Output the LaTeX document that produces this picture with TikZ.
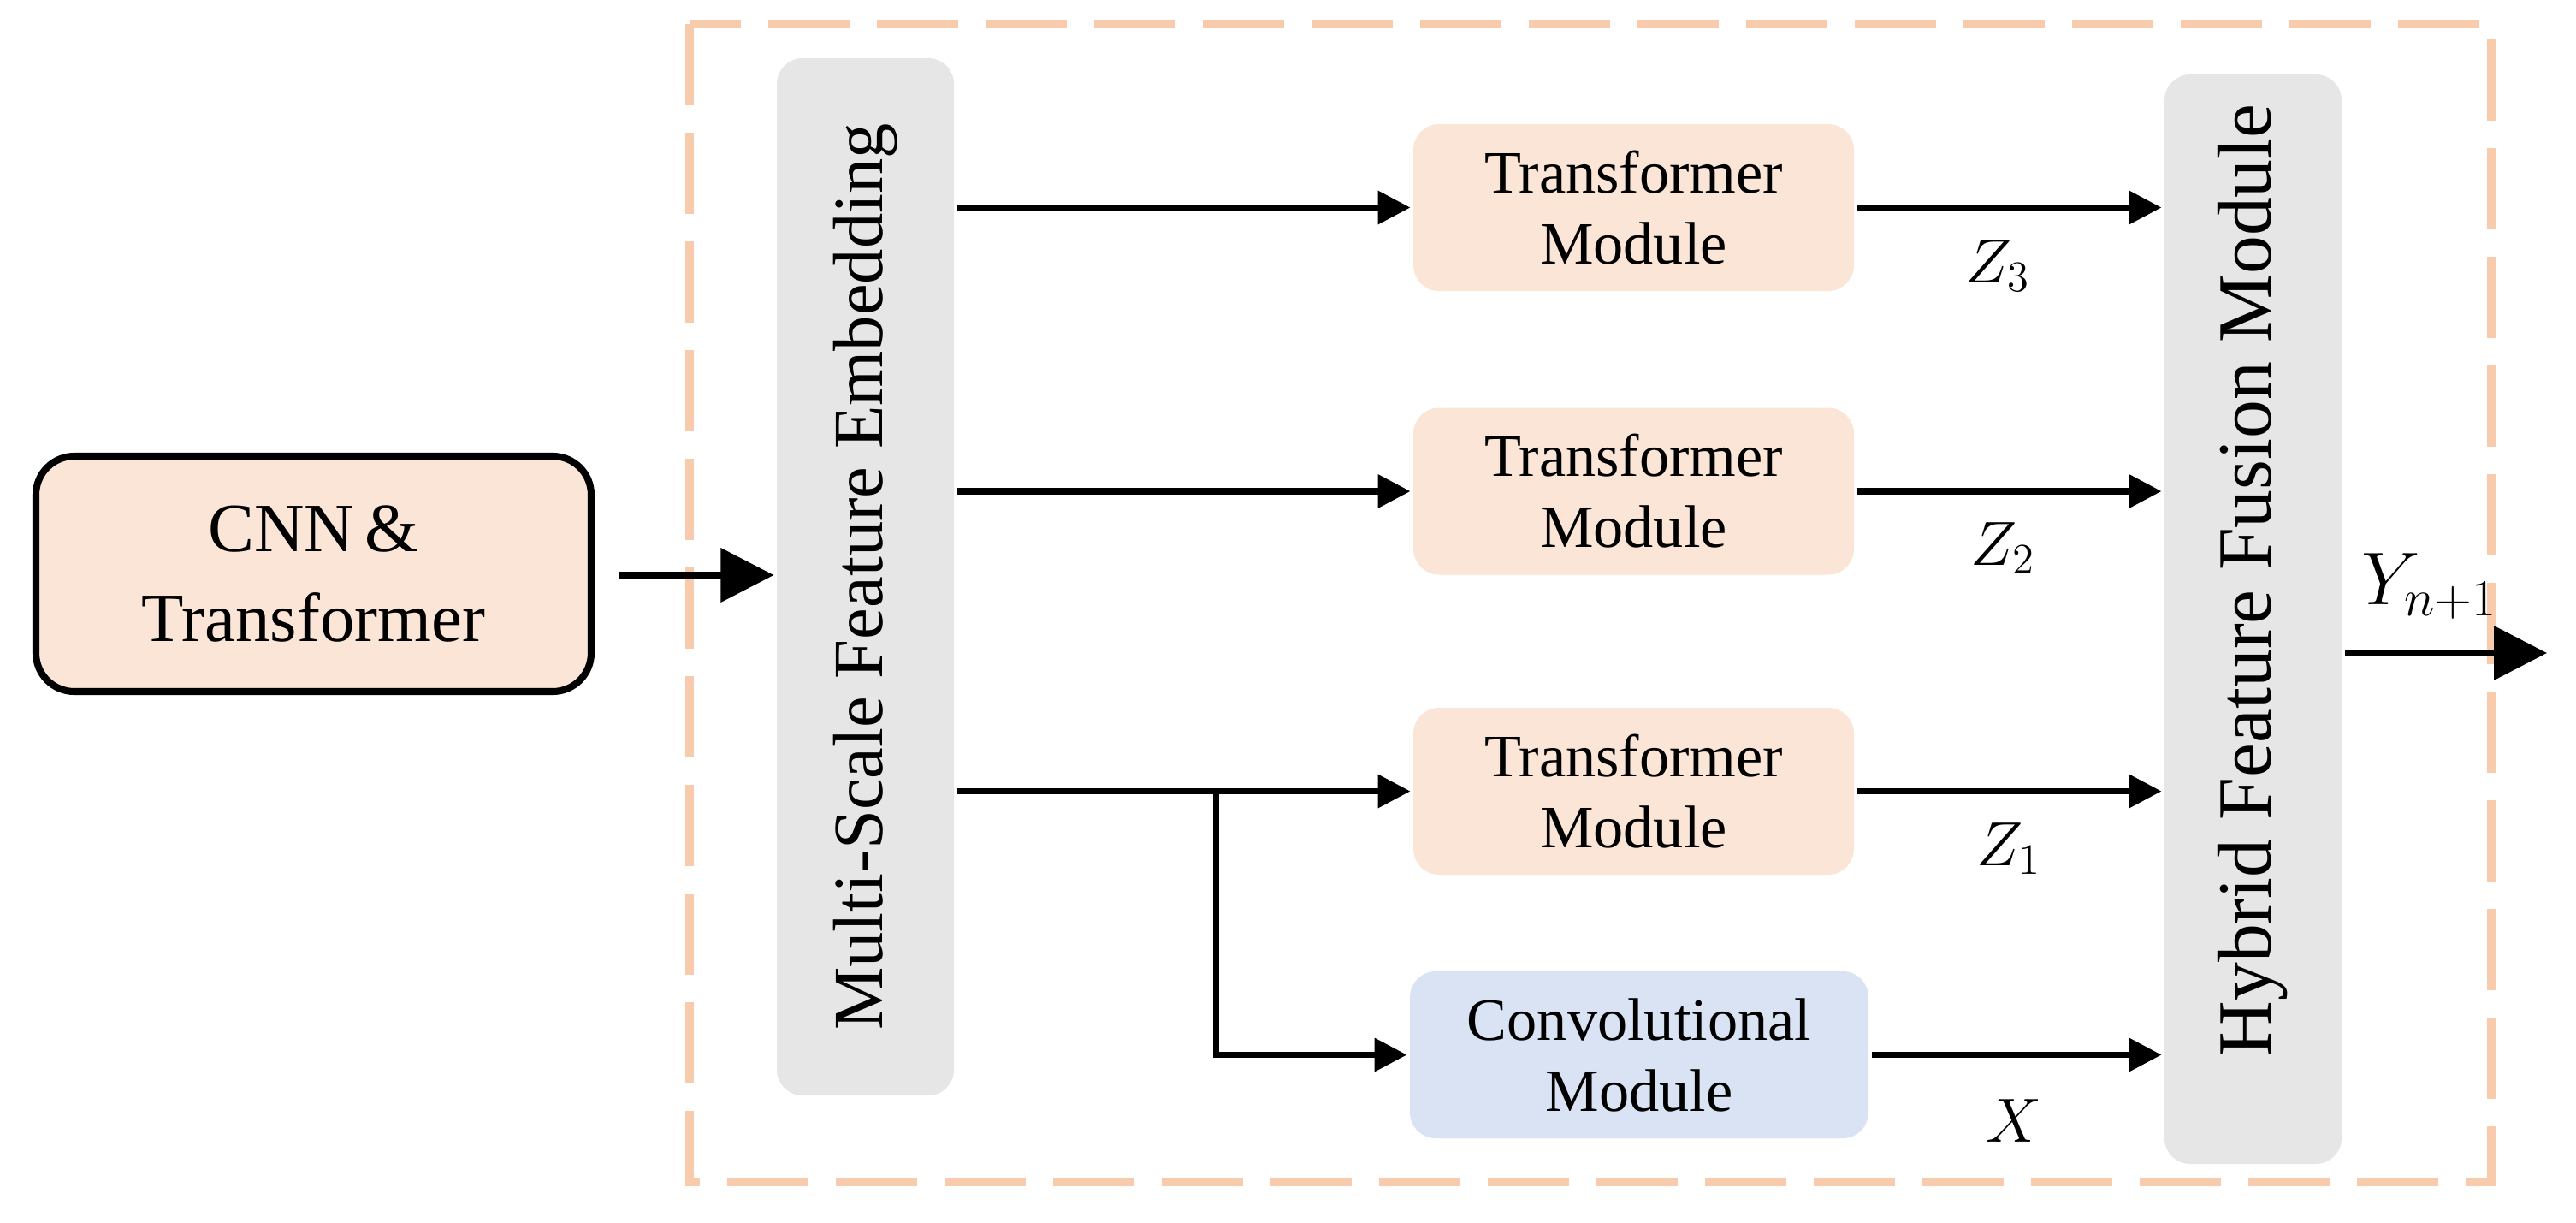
\documentclass[tikz,border=0pt]{standalone}
\usepackage{fontspec}
\setmainfont{Liberation Serif}
\usetikzlibrary{arrows.meta,positioning}
\definecolor{peach}{HTML}{FBE5D6}
\definecolor{paleblue}{HTML}{DAE3F3}
\definecolor{boxgray}{HTML}{E6E6E6}
\definecolor{framepeach}{HTML}{F8CBAD}

\begin{document}
\begin{tikzpicture}[line width=2pt,
	module/.style={rounded corners=0.3cm, minimum width=5.15cm, minimum height=1.95cm,
		inner sep=0pt, align=center, font=\fontsize{20}{23.6}\selectfont},
	tallbox/.style={fill=boxgray, rounded corners=0.3cm, minimum width=2.07cm,
		inner sep=0pt, font=\fontsize{23.5}{28}\selectfont},
	link/.style={-{Triangle[length=0.38cm,width=0.38cm]}},
	biglink/.style={-{Triangle[length=0.62cm,width=0.62cm]}},
	lbl/.style={anchor=base west, inner sep=0pt, font=\fontsize{19.5}{24}\selectfont}]
	\useasboundingbox (0,0) rectangle (30.11,-14.29);

	% dashed frame
	\draw[framepeach, line width=3.1pt, dash pattern=on 0.95cm off 0.32cm]
		(8.06,-0.28) rectangle (29.12,-13.81);

	\node[draw, fill=peach, line width=2.3pt, rounded corners=0.45cm, minimum width=6.49cm,
		minimum height=2.75cm, align=center, font=\fontsize{23}{29.9}\selectfont]
		(cnn) at (3.665,-6.705) {CNN\hspace{0.15em}\&\\Transformer};

	\node[tallbox, minimum height=12.12cm] (msfe) at (10.115,-6.74)
		{\rotatebox{90}{Multi-Scale Feature Embedding}};
	\node[tallbox, minimum height=12.73cm] (hffm) at (26.335,-7.235) {};
	\node[rotate=90, inner sep=0pt, font=\fontsize{25.5}{30}\selectfont]
		(hffmtext) at (26.335,-6.78) {Hybrid Feature Fusion Module};

	\node[module, fill=peach] (trans3) at (19.095,-2.425) {Transformer\\Module};
	\node[module, fill=peach] (trans2) at (19.095,-5.74) {Transformer\\Module};
	\node[module, fill=peach] (trans1) at (19.095,-9.245) {Transformer\\Module};
	\node[module, fill=paleblue, minimum width=5.36cm] (conv) at (19.16,-12.325) {Convolutional\\Module};

	% input and output
	\coordinate (in) at (7.24,-6.72);
	\draw[biglink] (in) -- (in -| msfe.west);
	\coordinate (out) at (29.77,-7.63);
	\draw[biglink] (hffm.east |- out) -- (out);

	% branches
	\draw[link] (msfe.east |- trans3) -- (trans3.west);
	\draw[link] (msfe.east |- trans2) -- (trans2.west);
	\draw[link] (msfe.east |- trans1) -- (trans1.west);
	\path (msfe.east |- trans1) ++(3.03,0) coordinate (split);
	\draw[link] (split) |- (conv.west);

	\draw[link] (trans3.east) -- (trans3.east -| hffm.west);
	\draw[link] (trans2.east) -- (trans2.east -| hffm.west);
	\draw[link] (trans1.east) -- (trans1.east -| hffm.west);
	\draw[link] (conv.east) -- (conv.east -| hffm.west);

	\node[lbl] (z3) at (22.94,-3.30) {$Z_3$};
	\node[lbl] (z2) at (23.00,-6.60) {$Z_2$};
	\node[lbl] (z1) at (23.07,-10.11) {$Z_1$};
	\node[lbl] (xlbl) at (23.18,-13.34) {$X$};
	\node[anchor=base west, inner sep=0pt, font=\fontsize{24.5}{29}\selectfont]
		(ylbl) at (27.57,-7.06) {$Y_{n+1}$};

\end{tikzpicture}
\end{document}
